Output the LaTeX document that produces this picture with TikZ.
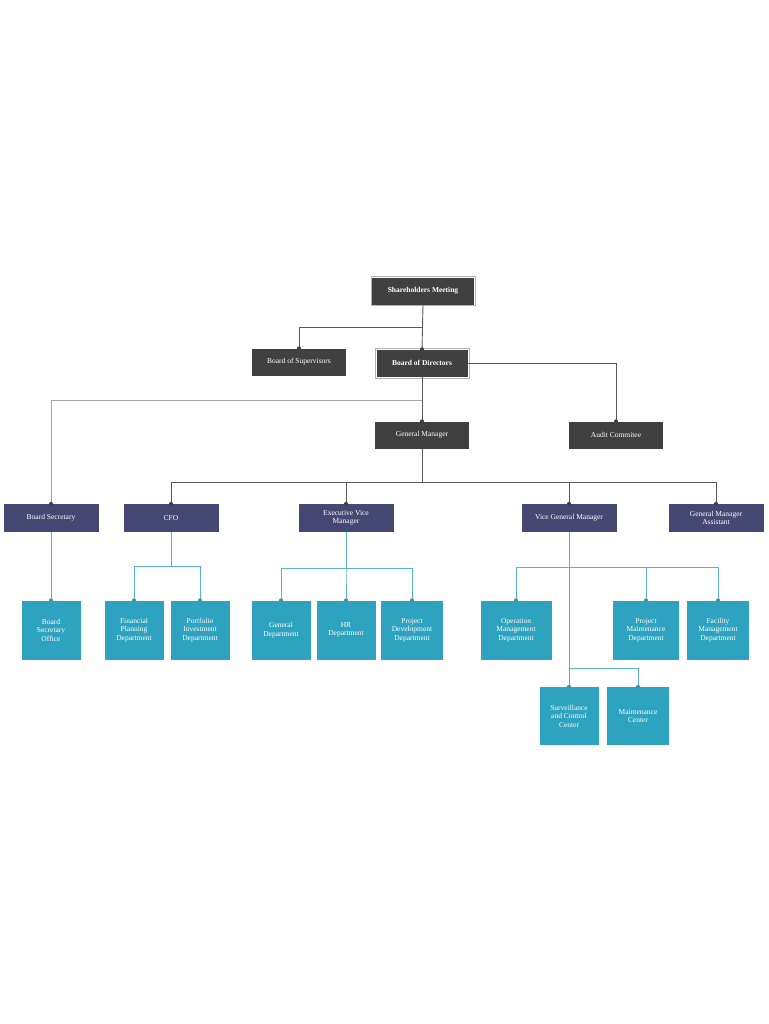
\documentclass[tikz,border=0pt]{standalone}
\usepackage{fontspec}
\setmainfont{Liberation Serif}
\begin{document}
\begin{tikzpicture}[x=1pt,y=-1pt,
 base/.style={text=white,font=\fontsize{7.5}{8.5}\selectfont,align=center,inner sep=1pt},
 dark/.style={base,fill=dgray,minimum height=27pt},
 dbl/.style={dark,draw=white,line width=0.8pt,double=gray!70,double distance=0pt,outer sep=1.5pt},
 purp/.style={base,fill=purp,minimum width=95pt,minimum height=28pt},
 teal/.style={base,fill=tealc,minimum height=59pt},
 gl/.style={draw=lgray,line width=0.9pt},
 tl/.style={draw=tline,line width=0.8pt},
 dot/.style={fill=#1,circle,inner sep=0pt,minimum size=4pt}]
\definecolor{dgray}{HTML}{404040}
\definecolor{purp}{HTML}{464874}
\definecolor{tealc}{HTML}{2EA3BF}
\definecolor{tline}{HTML}{5AB4CC}
\definecolor{lgray}{HTML}{5A5A5A}
\useasboundingbox (0,0) rectangle (768,1024);
\node[dark,minimum width=102pt,font=\fontsize{7.5}{8.5}\selectfont\bfseries] (sh) at (423,291) {Shareholders Meeting};
\draw[gray!60,line width=0.8pt] (371,276) rectangle (475,305);
\node[dark,minimum width=94pt] (bs) at (299,362) {Board of Supervisors};
\node[dark,minimum width=91pt,font=\fontsize{7.5}{8.5}\selectfont\bfseries] (bd) at (422,363) {Board of Directors};
\draw[gray!60,line width=0.8pt] (375,348) rectangle (469,378);
\node[dark,minimum width=94pt] (gm) at (422,435) {General Manager};
\node[dark,minimum width=94pt] (ac) at (616,435) {Audit Commitee};
\node[purp] (bsec) at (51,518) {Board Secretary};
\node[purp] (cfo) at (171,518) {CFO};
\node[purp] (evm) at (346,518) {Executive Vice\\Manager};
\node[purp] (vgm) at (569,518) {Vice General Manager};
\node[purp] (gma) at (716,518) {General Manager\\Assistant};
\node[teal,minimum width=59pt] (bso) at (51,630) {Board\\Secretary\\Office};
\node[teal,minimum width=59pt] (fpd) at (134,630) {Financial\\Planning\\Department};
\node[teal,minimum width=59pt] (pid) at (200,630) {Portfolio\\Investment\\Department};
\node[teal,minimum width=59pt] (gd) at (281,630) {General\\Department};
\node[teal,minimum width=59pt] (hr) at (346,630) {HR\\Department};
\node[teal,minimum width=62pt] (pdd) at (412,630) {Project\\Development\\Department};
\node[teal,minimum width=71pt] (omd) at (516,630) {Operation\\Management\\Department};
\node[teal,minimum width=66pt] (pmd) at (646,630) {Project\\Maintenance\\Department};
\node[teal,minimum width=62pt] (fmd) at (718,630) {Facility\\Management\\Department};
\node[teal,minimum width=59pt,minimum height=58pt] (scc) at (569,716) {Surveillance\\and Control\\Center};
\node[teal,minimum width=62pt,minimum height=58pt] (mc) at (638,716) {Maintenance\\Center};
% top
\draw[gl] (sh.south) -- (bd.north);
\draw[gl] (423,327) -| (bs.north);
\draw[gl] (bd.east) -| (ac.north);
\draw[gl] (bd.south) -- (gm.north);
\draw[gray!70,line width=0.8pt] (422,400) -| (bsec.north);
\draw[gl] (gm.south) -- (422,482);
\foreach \n in {cfo,evm,vgm,gma}{\draw[gl] (gm.south |- 0,482) -| (\n.north); \node[dot=dgray] at (\n.north) {};}
\foreach \n in {bs,bd,gm,ac,bsec}{\node[dot=dgray] at (\n.north) {};}
% teal
\draw[tl] (bsec.south) -- (bso.north);
\foreach \p/\y/\c in {cfo/566/fpd,cfo/566/pid,evm/568/gd,evm/568/hr,evm/568/pdd,vgm/567/omd,vgm/567/pmd,vgm/567/fmd}
 {\draw[tl] (\p.south) -- (\p.south |- 0,\y) -| (\c.north);}
\draw[tl] (vgm.south) -- (scc.north);
\draw[tl] (569,668) -| (mc.north);
\foreach \n in {bso,fpd,pid,gd,hr,pdd,omd,pmd,fmd,scc,mc}{\node[dot=tline!80!black] at (\n.north) {};}
\end{tikzpicture}
\end{document}
